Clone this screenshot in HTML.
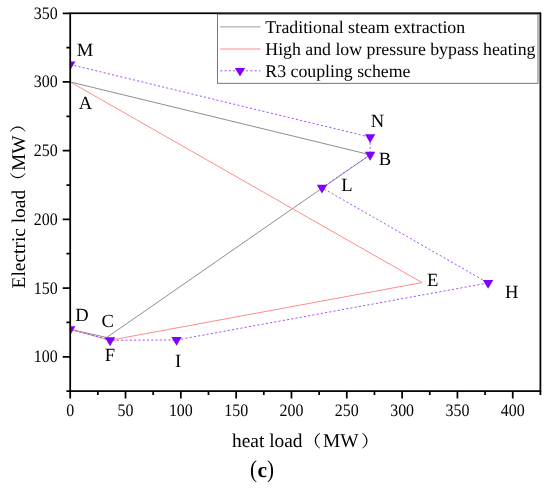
<!DOCTYPE html>
<html><head><meta charset="utf-8"><title>chart</title>
<style>
html,body{margin:0;padding:0;background:#fff;}
body{width:550px;height:490px;overflow:hidden;}
svg{display:block;}
text{font-family:"Liberation Serif","Noto Serif CJK SC",serif;fill:#000;text-rendering:geometricPrecision;}
.tk{font-size:17.5px;}
.lb{font-size:18.6px;}
.lg{font-size:17.8px;}
.ax{font-size:19.4px;}
</style></head><body>
<svg width="550" height="490" viewBox="0 0 550 490">
<rect width="550" height="490" fill="#fff"/>
<defs><clipPath id="cp"><rect x="70.20" y="13.25" width="470.20" height="377.85"/></clipPath></defs>
<g clip-path="url(#cp)">
<polyline points="70.20,81.95 370.13,154.77 106.71,337.51 70.20,329.27" fill="none" stroke="#7a7a7a" stroke-width="0.85"/>
<polyline points="70.20,81.95 422.02,282.55 110.03,340.26 70.20,329.27" fill="none" stroke="#ff8585" stroke-width="0.95"/>
<polyline points="70.20,64.50 370.13,137.18 370.13,154.77 322.01,187.75 488.07,282.97 176.52,339.99 110.03,340.26 70.20,329.27" fill="none" stroke="#a050ff" stroke-width="1" stroke-dasharray="2.1 2.2"/>
<polygon points="65.00,61.57 75.40,61.57 70.20,70.37" fill="#8000ff"/>
<polygon points="364.93,134.25 375.33,134.25 370.13,143.05" fill="#8000ff"/>
<polygon points="364.93,151.84 375.33,151.84 370.13,160.64" fill="#8000ff"/>
<polygon points="316.81,184.81 327.21,184.81 322.01,193.61" fill="#8000ff"/>
<polygon points="482.87,280.03 493.27,280.03 488.07,288.83" fill="#8000ff"/>
<polygon points="171.32,337.05 181.72,337.05 176.52,345.85" fill="#8000ff"/>
<polygon points="104.83,337.33 115.23,337.33 110.03,346.13" fill="#8000ff"/>
<polygon points="65.00,326.34 75.40,326.34 70.20,335.14" fill="#8000ff"/>
</g>
<rect x="70.20" y="13.25" width="470.20" height="377.85" fill="none" stroke="#000" stroke-width="1.75"/>
<path d="M70.20 391.10V398.60M125.52 391.10V398.60M180.84 391.10V398.60M236.15 391.10V398.60M291.47 391.10V398.60M346.79 391.10V398.60M402.11 391.10V398.60M457.42 391.10V398.60M512.74 391.10V398.60M97.86 391.10V394.90M153.18 391.10V394.90M208.49 391.10V394.90M263.81 391.10V394.90M319.13 391.10V394.90M374.45 391.10V394.90M429.76 391.10V394.90M485.08 391.10V394.90M540.40 391.10V394.90M70.20 356.75H62.70M70.20 288.05H62.70M70.20 219.35H62.70M70.20 150.65H62.70M70.20 81.95H62.70M70.20 13.25H62.70M70.20 391.10H66.40M70.20 322.40H66.40M70.20 253.70H66.40M70.20 185.00H66.40M70.20 116.30H66.40M70.20 47.60H66.40" stroke="#000" stroke-width="1.75" fill="none"/>
<text class="tk" transform="translate(70.20 416.4) scale(0.91 1)" text-anchor="middle">0</text>
<text class="tk" transform="translate(125.52 416.4) scale(0.91 1)" text-anchor="middle">50</text>
<text class="tk" transform="translate(180.84 416.4) scale(0.91 1)" text-anchor="middle">100</text>
<text class="tk" transform="translate(236.15 416.4) scale(0.91 1)" text-anchor="middle">150</text>
<text class="tk" transform="translate(291.47 416.4) scale(0.91 1)" text-anchor="middle">200</text>
<text class="tk" transform="translate(346.79 416.4) scale(0.91 1)" text-anchor="middle">250</text>
<text class="tk" transform="translate(402.11 416.4) scale(0.91 1)" text-anchor="middle">300</text>
<text class="tk" transform="translate(457.42 416.4) scale(0.91 1)" text-anchor="middle">350</text>
<text class="tk" transform="translate(512.74 416.4) scale(0.91 1)" text-anchor="middle">400</text>
<text class="tk" transform="translate(57.6 362.20) scale(0.91 1)" text-anchor="end">100</text>
<text class="tk" transform="translate(57.6 293.50) scale(0.91 1)" text-anchor="end">150</text>
<text class="tk" transform="translate(57.6 224.80) scale(0.91 1)" text-anchor="end">200</text>
<text class="tk" transform="translate(57.6 156.10) scale(0.91 1)" text-anchor="end">250</text>
<text class="tk" transform="translate(57.6 87.40) scale(0.91 1)" text-anchor="end">300</text>
<text class="tk" transform="translate(57.6 18.70) scale(0.91 1)" text-anchor="end">350</text>
<rect x="217.5" y="14.15" width="320.5" height="69.15" fill="#fff" stroke="#5c5c5c" stroke-width="0.85"/>
<line x1="220.2" y1="26.9" x2="260.6" y2="26.9" stroke="#7a7a7a" stroke-width="0.75"/>
<line x1="220.2" y1="49" x2="260.6" y2="49" stroke="#ff8585" stroke-width="0.95"/>
<line x1="220.2" y1="70.8" x2="260.6" y2="70.8" stroke="#a050ff" stroke-width="1" stroke-dasharray="2.1 2.2"/>
<polygon points="234.8,68.0 245.2,68.0 240,76.4" fill="#8000ff"/>
<text class="lg" x="265.3" y="33">Traditional steam extraction</text>
<text class="lg" x="265.3" y="55">High and low pressure bypass heating</text>
<text class="lg" x="265.3" y="77">R3 coupling scheme</text>
<text class="lb" x="76.8" y="55.7">M</text>
<text class="lb" x="78.7" y="109.4">A</text>
<text class="lb" x="370.7" y="127.4">N</text>
<text class="lb" x="378.7" y="165">B</text>
<text class="lb" x="341.3" y="191">L</text>
<text class="lb" x="426.9" y="285.6">E</text>
<text class="lb" x="504.9" y="297.9">H</text>
<text class="lb" x="75.3" y="321.4">D</text>
<text class="lb" x="101.4" y="327">C</text>
<text class="lb" x="104.8" y="361.4">F</text>
<text class="lb" x="175.0" y="366.6">I</text>
<g transform="translate(0 447.2)"><text class="ax" x="232" y="0">heat load</text><text transform="translate(302.7 0) scale(1.13 1)" style="font-size:16.4px">（</text><text class="ax" x="322.9" y="0">MW</text><text transform="translate(361.1 0) scale(1.13 1)" style="font-size:16.4px">）</text></g>
<g transform="translate(24.6 288.4) rotate(-90)"><text class="ax" x="0" y="0">Electric load</text><text transform="translate(98.1 -0.45) scale(1.13 1)" style="font-size:16.4px">（</text><text class="ax" x="117.5" y="0">MW</text><text transform="translate(155.3 -0.45) scale(1.13 1)" style="font-size:16.4px">）</text></g>
<text transform="translate(250.0 476.9) scale(0.87 1)" style="font-size:24.2px">(</text><text x="257.4" y="476.8" style="font-weight:bold;font-size:21.5px">c</text><text transform="translate(267.0 476.9) scale(0.87 1)" style="font-size:24.2px">)</text>
</svg>
</body></html>
